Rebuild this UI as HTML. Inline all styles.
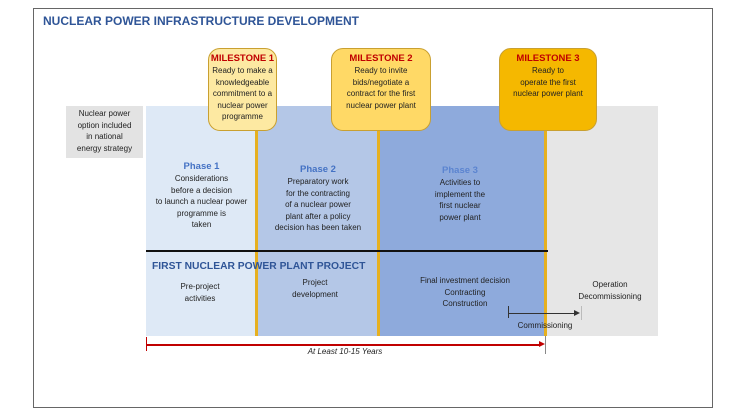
<!DOCTYPE html>
<html><head><style>
body{margin:0;width:743px;height:417px;background:#fff;font-family:"Liberation Sans",sans-serif;position:relative;overflow:hidden}
div{position:absolute;box-sizing:border-box}
.t{text-align:center;font-size:8px;line-height:11.5px;color:#222;white-space:nowrap}
.ms{border-radius:12px;border:1px solid #c9a030;text-align:center;font-size:8px;line-height:11.5px;color:#222;padding-top:4px;white-space:nowrap}
.ms b{color:#c00000;font-size:9.5px;display:block;line-height:12px}
.ph{color:#4472c4;font-weight:bold;font-size:9.5px;line-height:13px;display:block}
.vl{background:#e6b020;width:3px}
</style></head><body>
<div style="left:33px;top:8px;width:680px;height:400px;border:1px solid #666"></div>
<div style="left:43px;top:14px;font-size:12px;font-weight:bold;color:#2f5597;white-space:nowrap">NUCLEAR POWER INFRASTRUCTURE DEVELOPMENT</div>
<div style="left:66px;top:106px;width:77px;height:52px;background:#e3e3e3" class="t"><div style="position:static;padding-top:2px">Nuclear power<br>option included<br>in national<br>energy strategy</div></div>
<div style="left:146px;top:106px;width:111px;height:230px;background:#dee9f6"></div>
<div style="left:257px;top:106px;width:122px;height:230px;background:#b4c7e7"></div>
<div style="left:379px;top:106px;width:167px;height:230px;background:#8eaadc"></div>
<div style="left:546px;top:106px;width:112px;height:230px;background:#e6e6e6"></div>
<div class="vl" style="left:255px;top:128px;height:208px"></div>
<div class="vl" style="left:377px;top:128px;height:208px"></div>
<div class="vl" style="left:544px;top:128px;height:208px"></div>
<div style="left:545px;top:336px;width:1px;height:18px;background:#888"></div>
<div class="ms" style="left:208px;top:48px;width:69px;height:83px;background:#fde9a2"><b>MILESTONE 1</b>Ready to make a<br>knowledgeable<br>commitment to a<br>nuclear power<br>programme</div>
<div class="ms" style="left:331px;top:48px;width:100px;height:83px;background:#ffd966"><b>MILESTONE 2</b>Ready to invite<br>bids/negotiate a<br>contract for the first<br>nuclear power plant</div>
<div class="ms" style="left:499px;top:48px;width:98px;height:83px;background:#f5b800"><b>MILESTONE 3</b>Ready to<br>operate the first<br>nuclear power plant</div>
<div class="t" style="left:146px;top:160px;width:111px"><span class="ph">Phase 1</span>Considerations<br>before a decision<br>to launch a nuclear power<br>programme is<br>taken</div>
<div class="t" style="left:257px;top:163px;width:122px"><span class="ph">Phase 2</span>Preparatory work<br>for the contracting<br>of a nuclear power<br>plant after a policy<br>decision has been taken</div>
<div class="t" style="left:405px;top:164px;width:110px"><span class="ph" style="color:#5b84d0">Phase 3</span>Activities to<br>implement the<br>first nuclear<br>power plant</div>
<div style="left:146px;top:250px;width:402px;height:2px;background:#111"></div>
<div style="left:152px;top:261px;font-size:10.3px;font-weight:bold;color:#2f5597;white-space:nowrap">FIRST NUCLEAR POWER PLANT PROJECT</div>
<div class="t" style="left:160px;top:281px;width:80px">Pre-project<br>activities</div>
<div class="t" style="left:275px;top:277px;width:80px">Project<br>development</div>
<div class="t" style="left:400px;top:275px;width:130px">Final investment decision<br>Contracting<br>Construction</div>
<div class="t" style="left:560px;top:279px;width:100px">Operation<br>Decommissioning</div>
<div style="left:508px;top:306px;width:1px;height:12px;background:#333"></div>
<div style="left:508px;top:313px;width:68px;height:1px;background:#333"></div>
<div style="left:574px;top:310px;width:0;height:0;border-left:6px solid #333;border-top:3px solid transparent;border-bottom:3px solid transparent"></div>
<div style="left:581px;top:306px;width:1px;height:14px;background:#bbb"></div>
<div class="t" style="left:505px;top:320px;width:80px">Commissioning</div>
<div style="left:146px;top:337px;width:1px;height:14px;background:#c00000"></div>
<div style="left:146px;top:344px;width:394px;height:1.5px;background:#c00000"></div>
<div style="left:539px;top:341px;width:0;height:0;border-left:6px solid #c00000;border-top:3.5px solid transparent;border-bottom:3.5px solid transparent"></div>
<div class="t" style="left:270px;top:346px;width:150px;font-style:italic">At Least 10-15 Years</div>
</body></html>
